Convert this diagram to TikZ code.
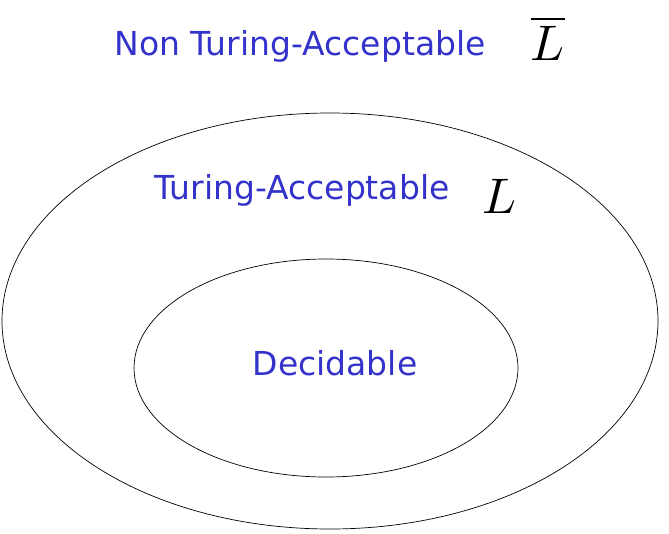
\documentclass[tikz,border=0pt]{standalone}
\usepackage{fontspec}
\setmainfont{DejaVu Sans}
\definecolor{lblue}{RGB}{51,51,204}
\begin{document}
\begin{tikzpicture}[x=1pt,y=-1pt,
  lab/.style={text=lblue,font=\fontsize{33}{36}\selectfont,inner sep=0pt},
  sym/.style={inner sep=0pt,scale=5},
  set/.style={draw,line width=0.7pt}]
\useasboundingbox (0,0) rectangle (669,533);
\draw[set] (330,321) ellipse [x radius=328,y radius=208];
\draw[set] (326,368) ellipse [x radius=192,y radius=109];
\node[lab] (nta) at (300,46) {Non Turing-Acceptable};
\node[sym] (lbar) at (548,38) {$\overline{L}$};
\node[lab] (ta) at (302,190) {Turing-Acceptable};
\node[sym] (l) at (500,196) {$L$};
\node[lab] (dec) at (335,363) {Decidable};
\end{tikzpicture}
\end{document}
